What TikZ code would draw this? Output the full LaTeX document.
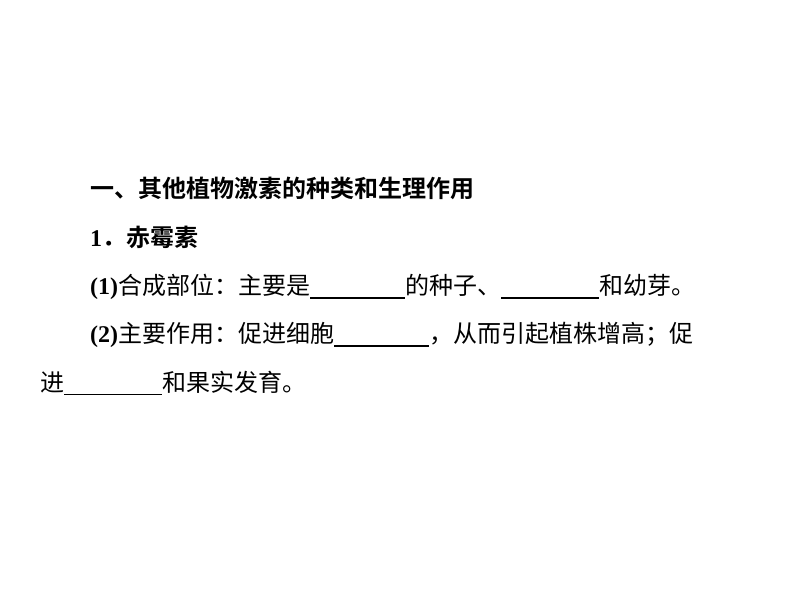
\documentclass[tikz,border=0pt]{standalone}
\usepackage{fontspec}
\newfontfamily\cjk{Noto Sans CJK SC}
\newfontfamily\cjkb{Noto Sans CJK SC Bold}
\newfontfamily\tnr{Liberation Serif}
\newcommand{\blank}[1]{\rule[-4pt]{#1pt}{1.5pt}}
\begin{document}
\begin{tikzpicture}[x=1pt,y=-1pt,
  line/.style={anchor=west,inner sep=0pt,font=\fontsize{24}{28}\selectfont\cjk}]
\useasboundingbox[fill=white] (0,0) rectangle (794,596);
\node[line,font=\fontsize{24}{28}\selectfont\cjkb] (l1) at (90,188) {一、其他植物激素的种类和生理作用};
\node[line,font=\fontsize{24}{28}\selectfont\cjkb] (l2) at (90,237) {{\tnr\bfseries 1}．赤霉素};
\node[line] (l3) at (90,287) {{\tnr\bfseries (1)}合成部位：主要是\blank{95}的种子、\blank{98}和幼芽。};
\node[line] (l4) at (90,335) {{\tnr\bfseries (2)}主要作用：促进细胞\blank{95}，从而引起植株增高；促};
\node[line] (l5) at (40,383) {进\blank{98}和果实发育。};
\end{tikzpicture}
\end{document}
